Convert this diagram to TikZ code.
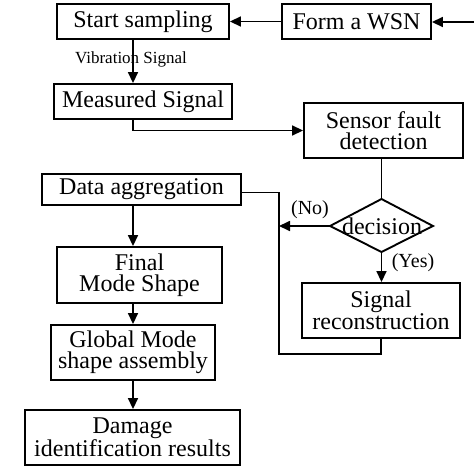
\documentclass[tikz,border=0pt]{standalone}
\usepackage{fontspec}
\setmainfont{Liberation Serif}
\usetikzlibrary{arrows.meta}
\tikzset{
  box/.style={draw, line width=1.9pt, inner sep=0pt, align=center,
    font=\fontsize{24}{21.5}\selectfont},
  lbl/.style={inner sep=0pt, font=\fontsize{20}{22}\selectfont},
  vlbl/.style={inner sep=0pt, font=\fontsize{17}{19}\selectfont},
  conn/.style={line width=1.7pt},
  arr/.style={conn, -{Triangle[length=11pt,width=10pt]}},
}
\begin{document}
\begin{tikzpicture}[x=1pt,y=-1pt]
\useasboundingbox (0,0) rectangle (474,474);
% boxes
\node[box, minimum width=172pt, minimum height=35pt] (ss) at (143,21.5) {Start sampling};
\node[box, minimum width=149pt, minimum height=35pt] (wsn) at (356.5,21.5) {Form a WSN};
\node[box, minimum width=178pt, minimum height=35pt] (ms) at (143,101.5) {Measured Signal};
\node[box, minimum width=159pt, minimum height=55pt] (sfd) at (383.5,130.5) {Sensor fault\\detection};
\node[box, minimum width=199pt, minimum height=31pt] (da) at (141.5,189.5) {Data aggregation};
\node[box, minimum width=158pt, minimum height=55pt] (sr) at (381,310.5) {Signal\\reconstruction};
\node[box, minimum width=165pt, minimum height=56pt] (fms) at (139.5,275) {Final\\Mode Shape};
\node[box, minimum width=164pt, minimum height=55pt] (gms) at (133,352.5) {Global Mode\\shape assembly};
\node[box, minimum width=215pt, minimum height=55pt] (dir) at (132.5,437.5) {Damage\\identification results};
% decision diamond
\coordinate (dl) at (330,226);
\coordinate (dr) at (433,226);
\coordinate (dt) at (381.5,199);
\coordinate (db) at (381.5,252);
\draw[line width=1.9pt] (dl) -- (dt) -- (dr) -- (db) -- cycle;
\node[inner sep=0pt, font=\fontsize{24}{21}\selectfont] (dec) at (382,226) {decision};
% helper coordinates
\coordinate (col) at (133,0);
\coordinate (bus) at (279,0);
\coordinate (rin) at (474,22);
% connectors
\draw[arr] (rin) -- (rin -| wsn.east);
\draw[arr] (wsn.west) -- (ss.east);
\draw[arr] (ss.south -| col) -- (ms.north -| col);
\node[vlbl] (vs) at (131,59) {Vibration Signal};
\draw[arr] (ms.south -| col) |- (sfd.west);
\draw[conn] (sfd.south -| dt) -- (dt);
\draw[arr] (dl) -- (bus |- dl);
\node[lbl] (no) at (310,210) {(No)};
\draw[arr] (db) -- (sr.north -| db);
\node[lbl] (yes) at (413,263) {(Yes)};
\draw[conn] (sr.south) -- ++(0,15) -| ([yshift=-3pt]da.east -| bus) -- ([yshift=-3pt]da.east);
\draw[arr] (da.south -| col) -- (fms.north -| col);
\draw[arr] (fms.south -| col) -- (gms.north -| col);
\draw[arr] (gms.south -| col) -- (dir.north -| col);
\end{tikzpicture}
\end{document}
